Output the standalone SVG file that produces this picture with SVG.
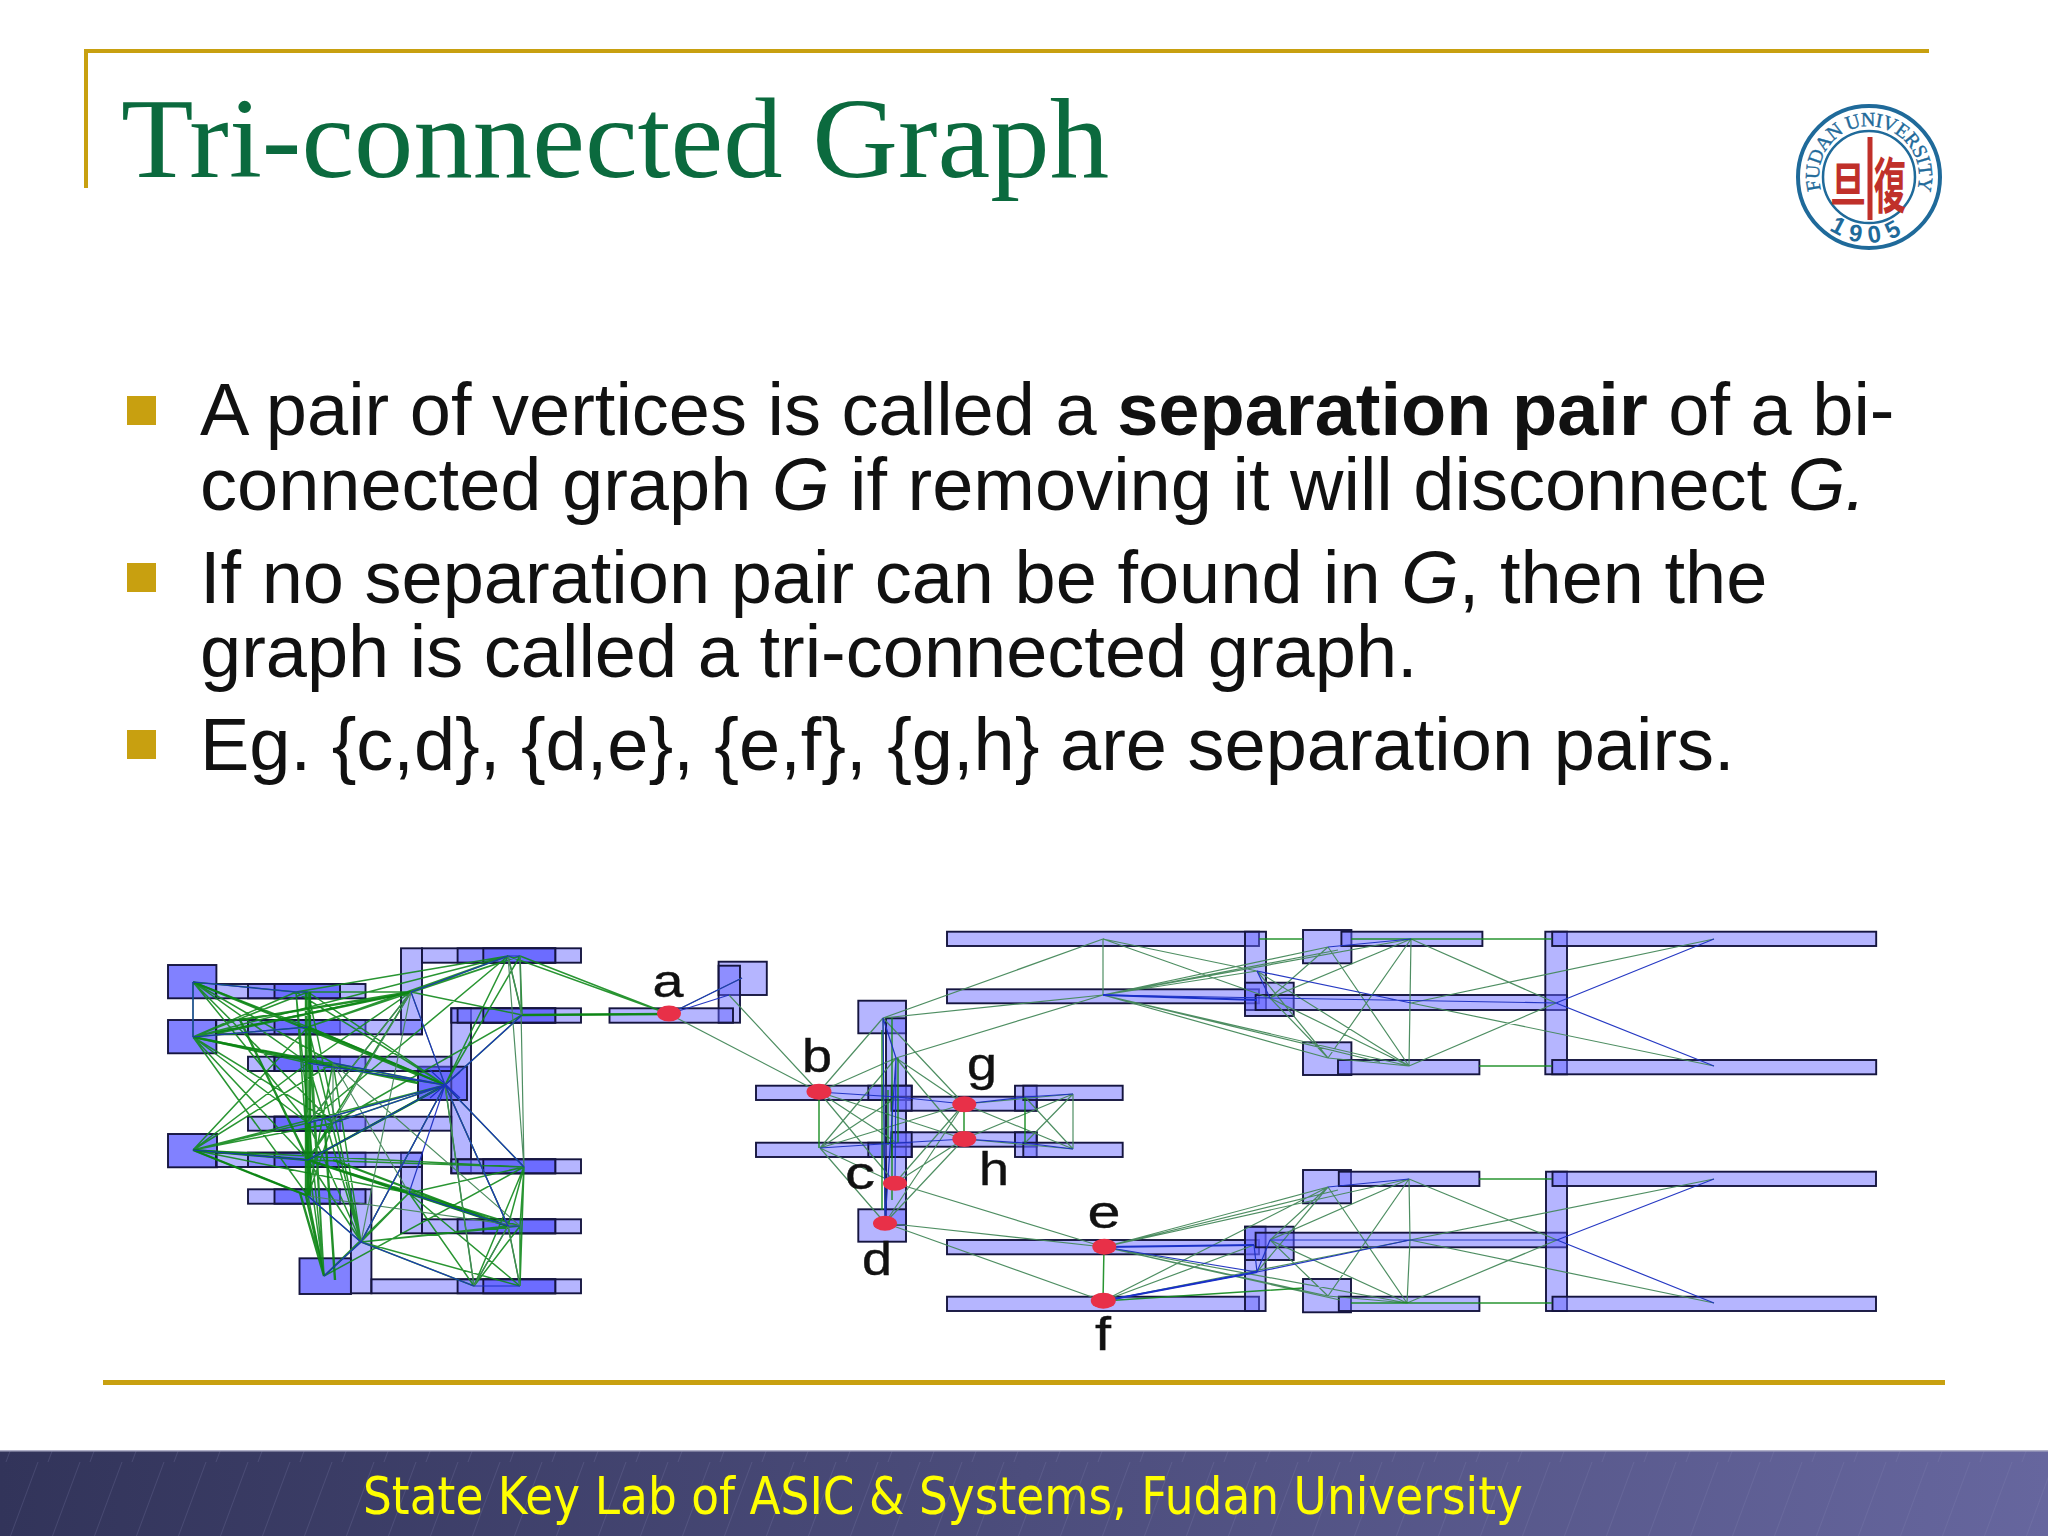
<svg xmlns="http://www.w3.org/2000/svg" xmlns:xlink="http://www.w3.org/1999/xlink" width="2048" height="1536" viewBox="0 0 2048 1536">
<defs>
<linearGradient id="foot" x1="0" x2="1" y1="0" y2="0"><stop offset="0" stop-color="#32345a"/><stop offset="1" stop-color="#66669e"/></linearGradient>
<pattern id="hatch" width="42" height="86" patternUnits="userSpaceOnUse"><path d="M6 86L38 0" stroke="#8a8ab8" stroke-width="1" opacity=".22" fill="none"/></pattern>
<path id="ringTop" d="M1824 194A50 50 0 1 1 1914 194"/>
<path id="ringBot" d="M1812 206A66 66 0 0 0 1926 206"/>
<style>
.gold{fill:#c8a010}
.body{font:74px "Liberation Sans",Arial,sans-serif;fill:#111}
.lab{font:47px "Liberation Sans",Arial,sans-serif;fill:#111;stroke:#111;stroke-width:.4;text-anchor:middle}
.b rect{fill:#6464ff;fill-opacity:.48;stroke:#15153f;stroke-width:1.9}
.dk rect{fill:#4a4aff;fill-opacity:.55;stroke:none}
.dot{fill:#e83048}
.g1{fill:none;stroke:#128a1c;stroke-width:1.5;stroke-opacity:.9}
.g3{fill:none;stroke:#0a8412;stroke-width:2.4;stroke-opacity:.9}
.g2{fill:none;stroke:#44885a;stroke-width:1.2;stroke-opacity:.95}
.bl{fill:none;stroke:#1a2ec0;stroke-width:1.2;stroke-opacity:.95}
.bt{fill:none;stroke:#1a30c8;stroke-width:2}
</style>
</defs>
<rect width="2048" height="1536" fill="#fff"/>
<g id="frame">
<rect class="gold" x="84" y="49" width="1845" height="4"/>
<rect class="gold" x="84" y="49" width="4" height="139"/>
<rect class="gold" x="103" y="1380" width="1842" height="5"/>
</g>
<text id="title" x="121" y="177" font-family="Liberation Serif, Times New Roman, serif" font-size="114" fill="#0b6a3e" textLength="988" lengthAdjust="spacingAndGlyphs">Tri-connected Graph</text>
<g id="logo" transform="translate(0 4)">
<circle cx="1869" cy="173" r="71" fill="#fff" stroke="#1f6a9a" stroke-width="4"/>
<circle cx="1869" cy="173" r="46" fill="none" stroke="#1f6a9a" stroke-width="2.500"/>
<text font-family="Liberation Serif, serif" font-size="20" fill="#1f6a9a" stroke="#1f6a9a" stroke-width=".4" letter-spacing="-.6" text-anchor="middle"><textPath xlink:href="#ringTop" href="#ringTop" startOffset="50%">FUDAN UNIVERSITY</textPath></text>
<text font-family="Liberation Sans, sans-serif" font-size="24" font-weight="700" fill="#1f6a9a" letter-spacing="8" text-anchor="middle"><textPath xlink:href="#ringBot" href="#ringBot" startOffset="50%">1905</textPath></text>
<path d="M1870 133V216" stroke="#c0302a" stroke-width="5" fill="none"/>
<text transform="translate(1848 198) scale(.95 1.25)" font-family="Noto Sans CJK TC, sans-serif" font-weight="700" font-size="38" fill="#c0302a" text-anchor="middle">旦</text>
<text transform="translate(1890 204) scale(.85 1.6)" font-family="Noto Sans CJK TC, sans-serif" font-weight="700" font-size="38" fill="#c0302a" text-anchor="middle">復</text>
</g>
<g id="bullets" class="gold">
<rect x="127" y="396" width="29" height="29"/>
<rect x="127" y="563" width="29" height="29"/>
<rect x="127" y="730" width="29" height="29"/>
</g>
<g id="body" class="body">
<text x="200" y="435">A pair of vertices is called a <tspan font-weight="700">separation pair</tspan> of a bi-</text>
<text x="200" y="510">connected graph <tspan font-style="italic">G</tspan> if removing it will disconnect <tspan font-style="italic">G.</tspan></text>
<text x="200" y="603">If no separation pair can be found in <tspan font-style="italic">G</tspan>, then the</text>
<text x="200" y="677">graph is called a tri-connected graph.</text>
<text x="200" y="770">Eg. {c,d}, {d,e}, {e,f}, {g,h} are separation pairs.</text>
</g>
<g id="shapes-left-tone" class="dk">
<rect x="168" y="965" width="48.400" height="33.300"/>
<rect x="168" y="1020" width="48.400" height="33.300"/>
<rect x="168" y="1134" width="49" height="33.300"/>
<rect x="299.500" y="1258.300" width="51.500" height="35.700"/>
<rect x="274.500" y="984" width="65.500" height="14.300"/>
<rect x="274.500" y="1020" width="65.500" height="14.300"/>
<rect x="274.500" y="1056.700" width="65.500" height="14.300"/>
<rect x="274.500" y="1116.700" width="65.500" height="14"/>
<rect x="274.500" y="1152.700" width="65.500" height="14.300"/>
<rect x="274.500" y="1189.300" width="65.500" height="14.400"/>
<rect x="483.300" y="948.300" width="72" height="14.400"/>
<rect x="483.300" y="1008.300" width="72" height="14.400"/>
<rect x="483.300" y="1159.300" width="72" height="14"/>
<rect x="483.300" y="1219.300" width="72" height="14"/>
<rect x="483.300" y="1279.300" width="72" height="14"/>
<rect x="418" y="1066.700" width="49" height="33.300"/>
<rect x="418" y="1066.700" width="33" height="33.300"/>
</g>
<g id="shapes-left" class="b">
<rect x="168" y="965" width="48.400" height="33.300"/>
<rect x="168" y="1020" width="48.400" height="33.300"/>
<rect x="168" y="1134" width="49" height="33.300"/>
<rect x="299.500" y="1258.300" width="51.500" height="35.700"/>
<rect x="401" y="948.300" width="21" height="86"/>
<rect x="451.300" y="1008.300" width="19.700" height="165"/>
<rect x="401" y="1152.700" width="21" height="80.600"/>
<rect x="350.900" y="1189.300" width="20.500" height="104"/>
<rect x="418" y="1066.700" width="49" height="33.300"/>
<rect x="216" y="984" width="124" height="14.300"/><rect x="248" y="984" width="117.500" height="14.300"/><rect x="274.500" y="984" width="65.500" height="14.300"/>
<rect x="216" y="1020" width="124" height="14.300"/><rect x="248" y="1020" width="117.500" height="14.300"/><rect x="274.500" y="1020" width="147.500" height="14.300"/>
<rect x="248" y="1056.700" width="92" height="14.300"/><rect x="274.500" y="1056.700" width="91" height="14.300"/><rect x="274.500" y="1056.700" width="176.800" height="14.300"/>
<rect x="248" y="1116.700" width="92" height="14"/><rect x="274.500" y="1116.700" width="91" height="14"/><rect x="274.500" y="1116.700" width="176.800" height="14"/>
<rect x="216" y="1152.700" width="124" height="14.300"/><rect x="248" y="1152.700" width="117.500" height="14.300"/><rect x="274.500" y="1152.700" width="147.500" height="14.300"/>
<rect x="248" y="1189.300" width="92" height="14.400"/><rect x="274.500" y="1189.300" width="91" height="14.400"/>
<rect x="422" y="948.300" width="133.300" height="14.400"/><rect x="457.600" y="948.300" width="123.400" height="14.400"/><rect x="483.300" y="948.300" width="72" height="14.400"/>
<rect x="451.300" y="1008.300" width="104" height="14.400"/><rect x="457.600" y="1008.300" width="123.400" height="14.400"/><rect x="483.300" y="1008.300" width="72" height="14.400"/>
<rect x="451.300" y="1159.300" width="104" height="14"/><rect x="457.600" y="1159.300" width="123.400" height="14"/><rect x="483.300" y="1159.300" width="72" height="14"/>
<rect x="422" y="1219.300" width="133.300" height="14"/><rect x="457.600" y="1219.300" width="123.400" height="14"/><rect x="483.300" y="1219.300" width="72" height="14"/>
<rect x="371.400" y="1279.300" width="183.900" height="14"/><rect x="457.600" y="1279.300" width="123.400" height="14"/><rect x="483.300" y="1279.300" width="72" height="14"/>
</g>
<g id="shapes-a" class="b">
<rect x="718.600" y="961.700" width="48.200" height="33.300"/>
<rect x="718.600" y="965.700" width="21.400" height="57"/>
<rect x="609.500" y="1008.300" width="123.500" height="14.400"/>
</g>
<g id="shapes-middle" class="b">
<rect x="858.300" y="1000.700" width="47.700" height="32.600"/>
<rect x="886" y="1018.300" width="20" height="206.700"/>
<rect x="858.300" y="1209.300" width="47.700" height="32.400"/>
<rect x="756" y="1085.700" width="127" height="14.300"/><rect x="868.300" y="1085.700" width="43.400" height="14.300"/>
<rect x="756" y="1142.700" width="127" height="14.300"/><rect x="868.300" y="1142.700" width="43.400" height="14.300"/>
<rect x="891.700" y="1096.700" width="145" height="14"/><rect x="891.700" y="1085.700" width="20" height="25"/>
<rect x="891.700" y="1132.300" width="145" height="14.400"/><rect x="891.700" y="1132.300" width="20" height="24.700"/>
<rect x="1015" y="1085.700" width="21.700" height="25"/><rect x="1015" y="1132.300" width="21.700" height="24.700"/>
<rect x="1023.300" y="1085.700" width="99.400" height="14.300"/><rect x="1023.300" y="1142.700" width="99.400" height="14.300"/>
</g>
<g id="shapes-top-right" class="b">
<rect x="947" y="931.700" width="312" height="14.300"/>
<rect x="947" y="989.300" width="312" height="14"/>
<rect x="1245" y="931.700" width="21" height="78.300"/>
<rect x="1245" y="982.700" width="48.700" height="33.300"/>
<rect x="1255.600" y="995" width="311.400" height="15"/>
<rect x="1303" y="930" width="48.400" height="33.300"/>
<rect x="1341.400" y="931.700" width="141" height="14.300"/>
<rect x="1303" y="1042.300" width="48.400" height="32.700"/>
<rect x="1338" y="1060" width="141.400" height="14.300"/>
<rect x="1545.300" y="931.700" width="21.700" height="142.600"/>
<rect x="1552.200" y="931.700" width="324" height="14.300"/>
<rect x="1552.200" y="1060" width="324" height="14.300"/>
</g>
<g id="shapes-bottom-right" class="b">
<rect x="947" y="1240" width="312" height="14.300"/>
<rect x="947" y="1296.700" width="312" height="14.300"/>
<rect x="1245" y="1226.700" width="20.600" height="84.300"/>
<rect x="1245" y="1226.700" width="48.700" height="33.300"/>
<rect x="1255.600" y="1232.700" width="311.400" height="14.600"/>
<rect x="1303" y="1170" width="48" height="33.300"/>
<rect x="1338.800" y="1171.700" width="140.600" height="14.300"/>
<rect x="1303" y="1279" width="48" height="33.300"/>
<rect x="1338.800" y="1296.700" width="140.600" height="14.300"/>
<rect x="1546" y="1171.700" width="21" height="139.300"/>
<rect x="1552.500" y="1171.700" width="323.500" height="14.300"/>
<rect x="1552.500" y="1296.700" width="323.500" height="14.300"/>
</g>
<g id="connectors">
<path class="g1" d="M193 982L193 1037M193 982L296 992M193 982L308 1027M193 982L308 1063M193 982L333 1063M193 982L308 1123M193 982L333 1123M193 1037L296 992M193 1037L308 992M193 1037L308 1027M193 1037L308 1063M193 1037L411 992M193 1037L508 956M193 1037L445 1085M193 1037L308 1123M193 1037L308 1160M193 1037L333 1123M193 1037L308 1196M193 1150L308 1063M193 1150L333 1063M193 1150L308 1123M193 1150L333 1123M193 1150L308 1160M193 1150L308 1196M193 1150L308 1027M193 1150L445 1085M193 1150L409 1193M193 1150L524 1167M308 992L324 1276M308 1027L324 1276M296 992L324 1276M308 1160L324 1276M308 1196L324 1276M308 992L308 1196M308 1027L308 1196M296 992L308 1160M308 992L308 1160M308 1063L308 1196M308 1123L361 1242M308 1160L361 1242M308 1196L361 1242M333 1063L308 1196M333 1123L308 1160M333 1123L308 1196M333 1063L361 1242M308 992L361 1242M308 1027L361 1242M308 1063L361 1242M296 992L411 992M296 992L508 956M308 1027L508 956M308 1027L520 956M308 1063L411 992M308 1123L411 992M308 992L445 1085M296 992L445 1085M308 1027L445 1085M308 1063L445 1085M333 1063L445 1085M308 1123L445 1085M333 1123L445 1085M308 1160L445 1085M333 1123L522 1015M308 1160L508 1226M308 1160L520 1226M308 1160L409 1193M308 1160L524 1167M308 1123L508 956M308 1160L411 992M411 992L522 1015M411 992L508 956M411 992L520 956M445 1085L508 956M445 1085L520 956M445 1085L522 1015M445 1085L524 1167M445 1085L508 1226M445 1085L361 1242M409 1193L524 1167M409 1193L508 1226M409 1193L520 1226M522 1015L520 956M522 1015L508 956M524 1167L520 1226M524 1167L508 1226M361 1242L474 1286M361 1242L520 1286M361 1242L520 1226M361 1242L508 1226M324 1276L524 1167M324 1276L409 1193M324 1276L361 1242M409 1193L474 1286M409 1193L520 1286M361 1242L409 1193M508 956L669 1014M520 956L669 1014M522 1015L669 1014M524 1167L474 1286M520 1226L474 1286M508 1226L474 1286M508 1226L520 1286M520 1226L520 1286M524 1167L520 1286M445 1085L474 1286"/>
<path class="g3" d="M306 992L306 1196M310 992L310 1196M193 1037L418 1083M193 982L418 1075M308 1160L418 1100M308 1160L508 1226M308 1160L445 1085M411 992L217 1033M411 992L240 1020M300 1193L324 1276M306 1196L324 1276M193 1150L308 1160M193 1150L308 1196M308 1123L308 1196M325 1130L335 1280M308 1027L445 1085M333 1160L508 1226M308 1160L240 1020M522 1015L669 1014"/>
<path class="g2" d="M445 1085L508 1226M445 1085L474 1286M411 992L445 1085M411 992L361 1242M411 992L308 1123M333 1063L333 1123M333 1063L409 1193M333 1123L411 992M333 1063L520 1226M308 1196L520 1226M508 956L522 1015M508 956L524 1167M520 956L524 1167M669 1014L819 1092M729 995L819 1092M669 1014L742 978M361 1242L445 1085M474 1286L508 1226M508 1226L520 1286"/>
<path class="bl" d="M193 982L193 1037M308 992L296 992M193 982L296 992M193 1037L308 1027M193 1150L308 1160M445 1085L308 1063M445 1085L333 1063M445 1085L308 1123M445 1085L333 1123M445 1085L308 1160M445 1085L522 1015M445 1085L524 1167M445 1085L508 1226M445 1085L361 1242M445 1085L411 992M445 1085L409 1193M430 1070L460 1098M430 1098L460 1072M308 1196L361 1242M361 1242L324 1276M361 1242L474 1286M409 1193L508 1226M411 992L508 956M508 956L520 956M669 1014L742 978M669 1014L729 995M508 1226L520 1226M474 1286L520 1286"/>
<path class="g2" d="M819 1092L883 1018M819 1092L896 1058M819 1092L964 1139M819 1092L897 1143M819 1092L895 1183M820 1148L964 1104M820 1148L897 1097M820 1148L896 1058M820 1148L895 1183M820 1148L885 1223M883 1018L964 1104M896 1058L964 1104M896 1058L964 1139M883 1018L885 1223M895 1183L964 1104M895 1183L964 1139M885 1223L964 1139M885 1223L964 1104M964 1104L1073 1094M964 1104L1073 1149M964 1139L1073 1094M964 1139L1073 1149M1073 1094L1073 1149M1025 1097L1073 1149M1025 1143L1073 1094M883 1018L1103 995M883 1018L1103 939M896 1058L1103 995M895 1183L1104 1247M885 1223L1104 1247M885 1223L1103 1301"/>
<path class="g1" d="M819 1092L819 1148M964 1104L964 1139M1104 1247L1103 1301M1025 1097L1025 1143M882 1030L882 1210M892 1018L892 1200M898 1058L898 1143M888 1090L888 1145"/>
<path class="bl" d="M883 1018L885 1223M896 1058L895 1183M883 1018L896 1058M896 1058L885 1223M819 1092L897 1097M820 1148L897 1143M964 1104L897 1097M964 1139L897 1143M964 1104L1025 1097M964 1139L1025 1143M1073 1094L1025 1097M1073 1149L1025 1143"/>
<path class="g2" d="M1103 995L1257 971M1103 995L1328 947M1103 995L1338 950M1103 995L1411 939M1103 995L1328 1058M1103 995L1409 1066M1103 995L1380 1062M1103 939L1103 995M1103 939L1257 971M1103 939L1270 998M1411 939L1556 1003M1409 1066L1556 1003M1411 939L1409 1066M1714 939L1411 1003M1714 1066L1411 1003M1328 947L1409 1066M1328 1058L1411 939M1328 947L1270 998M1328 1058L1270 998M1257 971L1328 1058M1411 939L1270 998M1409 1066L1270 998M1328 1058L1409 1066M1257 971L1409 1066"/>
<path class="g1" d="M1259 939L1303 939M1351 939L1552 939M1479 1066L1552 1066"/>
<path class="bl" d="M1714 939L1556 1003M1714 1066L1556 1003M1270 998L1556 1003M1257 971L1411 1003M1328 947L1411 939M1257 971L1270 998M1103 995L1270 998"/>
<path class="bt" d="M1103 995L1257 1000"/>
<path class="g2" d="M1104 1247L1328 1187M1104 1247L1338 1190M1104 1247L1409 1179M1104 1247L1328 1296M1104 1247L1407 1303M1104 1247L1340 1300M1103 1301L1328 1187M1103 1301L1254 1245M1103 1301L1410 1240M1409 1179L1557 1240M1407 1303L1557 1240M1409 1179L1410 1240M1410 1240L1407 1303M1714 1179L1410 1240M1714 1303L1410 1240M1328 1187L1407 1303M1328 1296L1409 1179M1328 1187L1270 1240M1328 1296L1270 1240M1257 1272L1328 1187M1409 1179L1270 1240M1407 1303L1270 1240M1328 1296L1407 1303"/>
<path class="g1" d="M1103 1301L1303 1288M1351 1303L1552 1303M1479 1179L1552 1179"/>
<path class="bl" d="M1714 1179L1557 1240M1714 1303L1557 1240M1270 1240L1557 1240M1257 1272L1410 1240M1328 1187L1409 1179M1257 1272L1270 1240M1104 1247L1257 1272M1103 1301L1257 1272M1257 1272L1254 1245"/>
<path class="bt" d="M1104 1247L1254 1245M1103 1301L1257 1272"/>
</g>
<g id="vertex-a"><ellipse class="dot" cx="669" cy="1013.500" rx="12" ry="8"/><text class="lab" x="668" y="997" textLength="31" lengthAdjust="spacingAndGlyphs">a</text></g>
<g id="vertex-b"><ellipse class="dot" cx="819" cy="1091.700" rx="12.500" ry="8"/><text class="lab" x="817" y="1072" textLength="30" lengthAdjust="spacingAndGlyphs">b</text></g>
<g id="vertex-c"><ellipse class="dot" cx="895" cy="1183.300" rx="12" ry="7.500"/><text class="lab" x="860" y="1189" textLength="30" lengthAdjust="spacingAndGlyphs">c</text></g>
<g id="vertex-d"><ellipse class="dot" cx="885" cy="1223.300" rx="12" ry="7.500"/><text class="lab" x="877" y="1275" textLength="30" lengthAdjust="spacingAndGlyphs">d</text></g>
<g id="vertex-e"><ellipse class="dot" cx="1104.300" cy="1246.700" rx="12" ry="8"/><text class="lab" x="1104" y="1228" textLength="33" lengthAdjust="spacingAndGlyphs">e</text></g>
<g id="vertex-f"><ellipse class="dot" cx="1103.300" cy="1300.700" rx="12.500" ry="8"/><text class="lab" x="1103" y="1350" textLength="16" lengthAdjust="spacingAndGlyphs">f</text></g>
<g id="vertex-g"><ellipse class="dot" cx="964.300" cy="1104.300" rx="12" ry="8"/><text class="lab" x="982" y="1080" textLength="30" lengthAdjust="spacingAndGlyphs">g</text></g>
<g id="vertex-h"><ellipse class="dot" cx="964.300" cy="1139" rx="12" ry="8"/><text class="lab" x="994" y="1185" textLength="30" lengthAdjust="spacingAndGlyphs">h</text></g>
<g id="footer">
<rect y="1450" width="2048" height="86" fill="url(#foot)"/>
<rect y="1450" width="2048" height="86" fill="url(#hatch)"/>
<rect y="1450" width="2048" height="1.500" fill="#b0b0c8"/>
<text x="363" y="1514" font-family="DejaVu Sans, sans-serif" font-size="52" fill="#ffff00" textLength="1160" lengthAdjust="spacingAndGlyphs">State Key Lab of ASIC &amp; Systems, Fudan University</text>
</g>
</svg>
